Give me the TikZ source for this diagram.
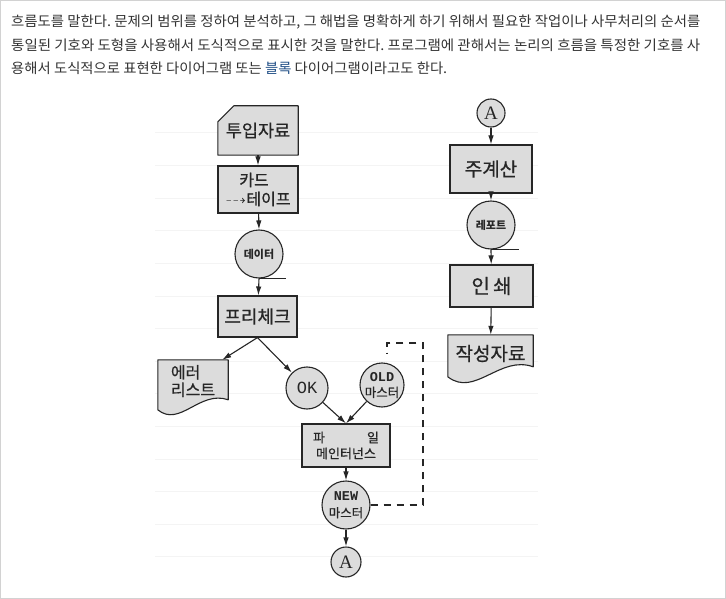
\documentclass[tikz,border=0pt]{standalone}
\usepackage{amssymb}
\usepackage{fontspec}
\setmainfont{Liberation Serif}
\newfontfamily\kor{Noto Sans CJK KR}
\newfontfamily\korb[FakeBold=0.6]{Noto Sans CJK KR}
\newfontfamily\mono{Liberation Mono}
\usepackage{tikz}
\usetikzlibrary{arrows.meta,backgrounds,calc}
\definecolor{txt}{HTML}{333333}
\definecolor{linkblue}{HTML}{1F4E86}
\definecolor{ink}{HTML}{262626}
\definecolor{boxfill}{HTML}{DCDCDC}
\definecolor{rulegray}{HTML}{F4F4F4}
\frenchspacing

\begin{document}
\begin{tikzpicture}[x=1pt,y=-1pt,
  para/.style={inner sep=0pt,text=txt,font=\kor\fontsize{14}{16}\selectfont},
  box/.style={draw=ink,line width=1.1pt,fill=boxfill,inner sep=0pt,text=ink},
  bare/.style={inner sep=0pt,text=ink},
  circ/.style={circle,draw=ink,line width=1.1pt,fill=boxfill,inner sep=0pt,text=ink},
  shp/.style={draw=ink,line width=1.1pt,fill=boxfill,line join=round},
  arr/.style={draw=ink,line width=1.1pt,-{Latex[length=9pt,width=5.5pt]}}]
\useasboundingbox (0,0) rectangle (726,599);

% text above the chart
\node[para,anchor=base west] (l1) at (11,27) {\resizebox{689pt}{\height}{흐름도를 말한다. 문제의 범위를 정하여 분석하고, 그 해법을 명확하게 하기 위해서 필요한 작업이나 사무처리의 순서를}};
\node[para,anchor=base west] (l2) at (11,51) {\resizebox{689pt}{\height}{통일된 기호와 도형을 사용해서 도식적으로 표시한 것을 말한다. 프로그램에 관해서는 논리의 흐름을 특정한 기호를 사}};
\node[para,anchor=base west] (l3) at (11,74) {\resizebox{436pt}{\height}{용해서 도식적으로 표현한 다이어그램 또는 {\color{linkblue}블록} 다이어그램이라고도 한다.}};

% left column
\node[bare,minimum width=80pt,minimum height=49pt,font=\korb\fontsize{17.5}{20}\selectfont] (input) at (258,130.5) {투입자료};
\node[box,minimum width=80pt,minimum height=47pt,align=center,font=\korb\fontsize{16}{19}\selectfont] (card) at (258,189.5) {\hspace*{-8pt}카드\\{\fontsize{14}{14}\selectfont$\dashrightarrow$}테이프};
\node[circ,minimum size=48pt,font=\kor\bfseries\fontsize{11}{13}\selectfont] (data) at (259,254) {데이터};
\node[box,minimum width=79pt,minimum height=41pt,font=\korb\fontsize{18}{20}\selectfont] (pre) at (257.5,316.5) {프리체크};
\node[bare,minimum width=70pt,minimum height=42pt,align=left,font=\korb\fontsize{16}{17.5}\selectfont] (err) at (193,381) {에러\\리스트};
\node[circ,minimum size=42pt,font=\mono\fontsize{17}{19}\selectfont] (ok) at (307,388) {OK};
\node[circ,minimum size=44pt,align=center,font=\korb\fontsize{12.5}{16}\selectfont] (old) at (382,385) {{\mono\bfseries\fontsize{13.5}{16}\selectfont OLD}\\마스터};
\node[box,minimum width=88pt,minimum height=43pt,align=center,font=\korb\fontsize{13}{16}\selectfont] (file) at (346,445.5) {\makebox[66pt]{파\hfill 일}\\메인터넌스};
\node[circ,minimum size=48pt,align=center,font=\korb\fontsize{12.5}{17}\selectfont] (new) at (346,505) {{\mono\bfseries\fontsize{13.5}{16}\selectfont NEW}\\마스터};
\node[circ,minimum size=30pt,font=\fontsize{19}{20}\selectfont] (a2) at (346,562) {A};
\coordinate (loopR) at (423,343);
\coordinate (loopL) at (387,353);

% right column
\node[circ,minimum size=28pt,font=\fontsize{19}{20}\selectfont] (a1) at (491,113) {A};
\node[box,minimum width=82pt,minimum height=48pt,font=\korb\fontsize{19}{21}\selectfont] (main) at (491,169) {주계산};
\node[circ,minimum size=48pt,font=\kor\bfseries\fontsize{11}{13}\selectfont] (rep) at (491,225) {레포트};
\node[box,minimum width=83pt,minimum height=42pt,font=\korb\fontsize{20}{22}\selectfont] (print) at (491.5,286) {인\,쇄};
\node[bare,minimum width=85pt,minimum height=37pt,font=\korb\fontsize{19}{21}\selectfont] (result) at (490.5,353.5) {작성자료};

\begin{scope}[on background layer]
\fill[white] (0,0) rectangle (726,599);
\draw[gray!35,line width=1.2pt] (0.6,0.6) rectangle (725.4,598.4);
% ruled paper
\foreach \k in {0,...,13}
  \draw[rulegray,line width=1pt] (155,{133+32.6*\k}) -- (538,{133+32.6*\k});
\draw[shp] ($(input.north west)+(0,16)$) -- ($(input.north west)+(16,0)$) -- (input.north east) -- (input.south east) -- (input.south west) -- cycle;
\draw[shp] (err.north west) -- (err.north east) -- ($(err.north east)+(0,40)$)
  .. controls ($(err.north west)+(42,30)$) and ($(err.north west)+(22,68)$) .. ($(err.north west)+(0,50)$) -- cycle;
\draw[shp] (result.north west) -- (result.north east) -- ($(result.north east)+(0,32)$)
  .. controls ($(result.north west)+(52,20)$) and ($(result.north west)+(27,63)$) .. ($(result.north west)+(0,42)$) -- cycle;
\end{scope}

\draw[ink,line width=1.1pt] (data.south) -- ++(27,0);
\draw[ink,line width=1.1pt] (rep.south) -- ++(28,0);

\draw[arr] (input) -- (card);
\draw[arr] (card) -- (data.north);
\draw[arr] (data.south) -- (pre);
\draw[arr] (pre.south) -- ($(err.north east)+(-6,0)$);
\draw[arr] (pre.south) -- (ok);
\draw[arr] (ok) -- (file.north);
\draw[arr] (old) -- (file.north);
\draw[arr] (file) -- (new);
\draw[arr] (new) -- (a2);
\draw[ink,line width=1.1pt,dash pattern=on 7pt off 6pt] (new.east) -| (loopR) -| (loopL);

\draw[arr] (a1) -- (main);
\draw[arr] (main) -- (rep);
\draw[arr] (rep.south) -- (print);
\draw[arr] (print) -- (result);
\end{tikzpicture}
\end{document}
